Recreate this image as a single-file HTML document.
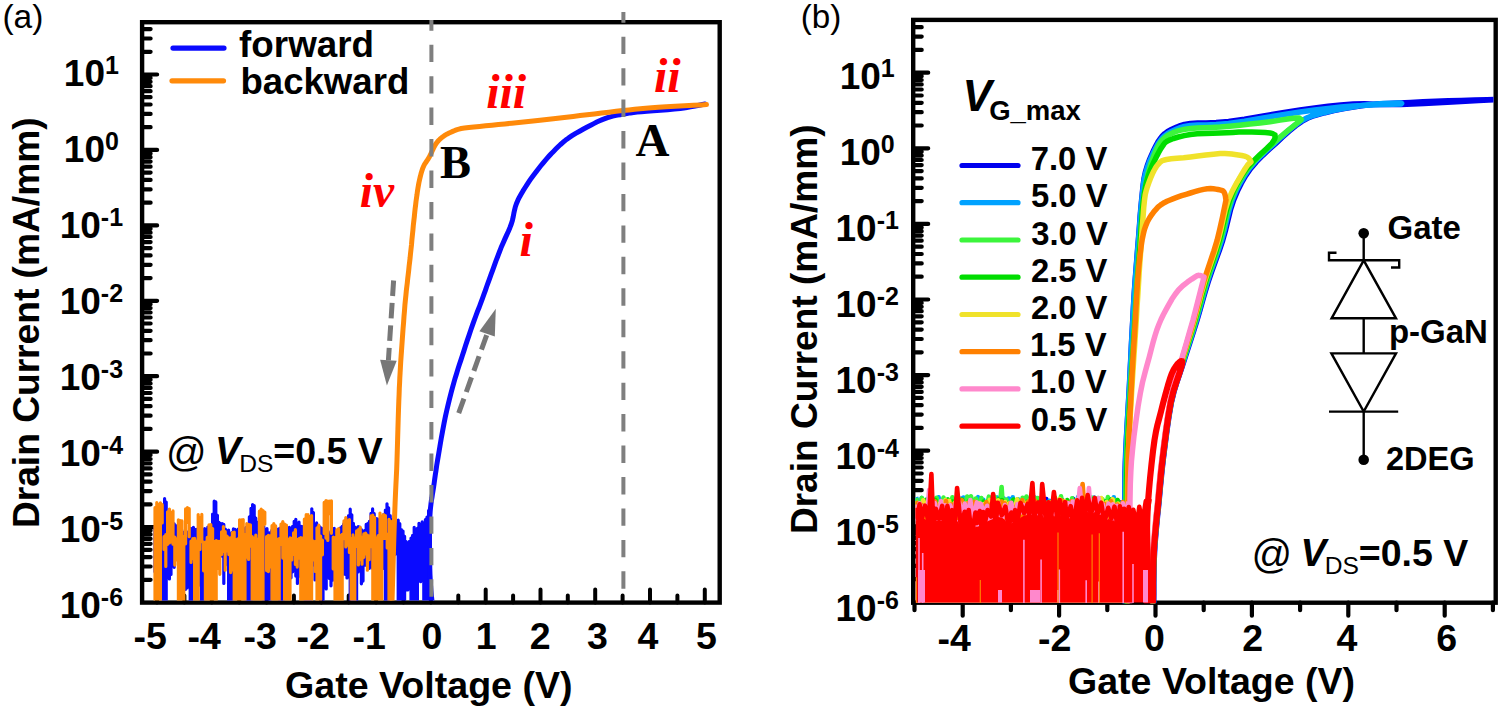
<!DOCTYPE html>
<html><head><meta charset="utf-8"><style>html,body{margin:0;padding:0;background:#fff;width:1500px;height:710px;overflow:hidden}svg{display:block}</style></head>
<body><svg width="1500" height="710" viewBox="0 0 1500 710">
<rect width="1500" height="710" fill="#fff"/>
<rect x="142.1" y="22.2" width="577.6" height="580.4" fill="none" stroke="#000" stroke-width="4.4"/>
<path d="M142.1,579.8h8.5 M142.1,566.5h8.5 M142.1,557.1h8.5 M142.1,549.8h8.5 M142.1,543.8h8.5 M142.1,538.8h8.5 M142.1,534.4h8.5 M142.1,530.5h8.5 M142.1,527.1h15 M142.1,504.4h8.5 M142.1,491.1h8.5 M142.1,481.7h8.5 M142.1,474.4h8.5 M142.1,468.4h8.5 M142.1,463.3h8.5 M142.1,459h8.5 M142.1,455.1h8.5 M142.1,451.7h15 M142.1,428.9h8.5 M142.1,415.7h8.5 M142.1,406.2h8.5 M142.1,398.9h8.5 M142.1,393h8.5 M142.1,387.9h8.5 M142.1,383.5h8.5 M142.1,379.7h8.5 M142.1,376.2h15 M142.1,353.5h8.5 M142.1,340.2h8.5 M142.1,330.8h8.5 M142.1,323.5h8.5 M142.1,317.5h8.5 M142.1,312.5h8.5 M142.1,308.1h8.5 M142.1,304.2h8.5 M142.1,300.8h15 M142.1,278.1h8.5 M142.1,264.8h8.5 M142.1,255.4h8.5 M142.1,248.1h8.5 M142.1,242.1h8.5 M142.1,237h8.5 M142.1,232.7h8.5 M142.1,228.8h8.5 M142.1,225.4h15 M142.1,202.7h8.5 M142.1,189.4h8.5 M142.1,179.9h8.5 M142.1,172.6h8.5 M142.1,166.7h8.5 M142.1,161.6h8.5 M142.1,157.2h8.5 M142.1,153.4h8.5 M142.1,149.9h15 M142.1,127.2h8.5 M142.1,113.9h8.5 M142.1,104.5h8.5 M142.1,97.2h8.5 M142.1,91.2h8.5 M142.1,86.2h8.5 M142.1,81.8h8.5 M142.1,78h8.5 M142.1,74.5h15 M142.1,51.8h8.5 M142.1,38.5h8.5 M142.1,29.1h8.5" stroke="#000" stroke-width="4.2" stroke-linecap="round"/>
<path d="M157,602.6v-13 M184.4,602.6v-7 M211.8,602.6v-13 M239.2,602.6v-7 M266.6,602.6v-13 M293.9,602.6v-7 M321.3,602.6v-13 M348.7,602.6v-7 M376.1,602.6v-13 M403.5,602.6v-7 M430.9,602.6v-13 M458.3,602.6v-7 M485.7,602.6v-13 M513.1,602.6v-7 M540.5,602.6v-13 M567.8,602.6v-7 M595.2,602.6v-13 M622.6,602.6v-7 M650,602.6v-13 M677.4,602.6v-7 M704.8,602.6v-13" stroke="#000" stroke-width="4" stroke-linecap="round"/>
<clipPath id="cl"><rect x="144.3" y="24.4" width="573.2" height="576"/></clipPath>
<g clip-path="url(#cl)" fill="none" stroke-width="5" stroke-linejoin="round">
<path d="M155,527.2V571.8 M156.6,529.6V570.9 M158.2,526.7V572.3 M159.8,524.4V567.3 M161.4,523.9V576.6 M163,509.1V603 M164.6,498.7V603 M166.2,502V603 M167.8,516.4V565.6 M169.4,519.6V579 M171,526.6V574.5 M172.6,526V556.5 M174.2,523.8V567.3 M175.8,525.5V557.2 M177.4,528.1V554.1 M179,530.9V571.3 M180.6,533.9V577.1 M182.2,532.4V574.9 M183.8,532.2V573.2 M185.4,529.6V589.5 M187,533.6V588 M188.6,531.5V567.6 M190.2,528.4V603 M191.8,528.7V603 M193.4,527.4V579.2 M195,529.4V584 M196.6,529.3V587.9 M198.2,532.1V557.1 M199.8,528.3V585.1 M201.4,529.5V603 M203,532.3V603 M204.6,528.5V556 M206.2,529.5V581.8 M207.8,527.1V555.1 M209.4,527.1V585.9 M211,525.5V554.7 M212.6,514.1V542.6 M214.2,501.2V554.1 M215.8,501.9V546.5 M217.4,515.3V547 M219,522.4V552 M220.6,523.5V552.5 M222.2,523.7V556.2 M223.8,524.4V583.4 M225.4,529.2V564.9 M227,531.3V563.7 M228.6,530V603 M230.2,534.1V603 M231.8,532.5V603 M233.4,528.9V588.5 M235,529.3V563.3 M236.6,532.3V568.8 M238.2,529.1V556.7 M239.8,527.6V573 M241.4,527.8V573.8 M243,527.7V568.6 M244.6,530.5V572.4 M246.2,527.3V603 M247.8,528.3V603 M249.4,516.8V603 M251,508.3V603 M252.6,504.5V558.2 M254.2,505.7V537.3 M255.8,518.2V576.2 M257.4,522.4V580.7 M259,527.5V573.6 M260.6,525.7V554.4 M262.2,524.4V583.1 M263.8,526.6V603 M265.4,530.4V603 M267,528.7V603 M268.6,533.1V603 M270.2,532.5V603 M271.8,530.4V561.5 M273.4,532.6V560 M275,529.4V573.9 M276.6,532.8V579.3 M278.2,529V586.1 M279.8,528.3V603 M281.4,526.8V603 M283,528V603 M284.6,528.8V555.9 M286.2,526.8V564.7 M287.8,528.9V558.5 M289.4,527.3V583.5 M291,529.8V577.8 M292.6,526.4V571.8 M294.2,521.3V547.6 M295.8,519.3V576.1 M297.4,524.7V583.4 M299,522V569.3 M300.6,526.1V576.7 M302.2,526.5V586.5 M303.8,526.4V570.5 M305.4,530.6V603 M307,528.4V603 M308.6,524.2V603 M310.2,516.8V603 M311.8,508.8V565.9 M313.4,512.6V561.6 M315,524.4V579.9 M316.6,522.9V575.5 M318.2,526.9V572 M319.8,526.9V565.2 M321.4,528V603 M323,529.2V603 M324.6,526.8V574.2 M326.2,533.1V588.9 M327.8,532.3V570.9 M329.4,533.1V578.4 M331,531.4V585.8 M332.6,529V580.2 M334.2,528.3V574.4 M335.8,530.7V563.8 M337.4,531.7V574.1 M339,530.9V588.1 M340.6,527.8V553.2 M342.2,526.3V575 M343.8,523.9V554.8 M345.4,526.3V574.4 M347,521.7V577.9 M348.6,515.5V563.8 M350.2,509.2V603 M351.8,514.8V603 M353.4,523.4V603 M355,527.2V603 M356.6,528.2V603 M358.2,526.5V571.9 M359.8,527.2V557 M361.4,529.5V583.8 M363,531.2V581.1 M364.6,530.5V565.2 M366.2,524.4V565.2 M367.8,523.7V556.2 M369.4,521.4V568.3 M371,513.4V549.4 M372.6,508.9V568.3 M374.2,513.7V541.3 M375.8,518.3V573.8 M377.4,518.8V568.7 M379,521.6V557.4 M380.6,522.4V548.1 M382.2,518V559 M383.8,514.3V568.4 M385.4,510V603 M387,503.8V603 M388.6,507.8V603 M390.2,515.7V556.4 M391.8,520.2V568.1 M393.4,522.5V581.1 M395,522.6V554.6 M396.6,522.2V553.4 M398.2,520.2V603 M399.8,523.7V603 M401.4,529.5V603 M403,531.1V603 M404.6,536.4V603 M406.2,541.7V590 M407.8,543.4V589.9 M409.4,541.4V580.2 M411,538.2V603 M412.6,535.4V603 M414.2,527.3V603 M415.8,531V603 M417.4,528.3V603 M419,523.3V564.2 M420.6,524.8V581.7 M422.2,521.9V566.8 M423.8,523.5V603 M425.4,519.7V603 M427,517.1V603 M428.6,510.7V603" stroke="#0a0aff" stroke-width="3.2" stroke-linecap="round"/>
<polyline points="432,602 431.8,599.3 431.4,595.7 431,591.3 430.6,586.3 430.3,580.9 430,575 429.8,568.3 429.7,560.5 429.6,552.2 429.5,544 429.5,536.4 429.5,530 429.6,525 429.6,520.9 429.8,517.5 430,514.4 430.2,511.3 430.5,508 430.9,504.5 431.3,501.1 431.9,497.8 432.4,494.4 433,490.8 433.6,487 434.2,483 434.7,479.1 435.3,474.9 436,470.4 436.7,465.5 437.6,460 438.7,453.6 439.9,446.4 441.2,438.7 442.6,431 444,423.5 445.4,416.6 446.8,410.3 448.2,404.4 449.6,398.7 451,393.2 452.4,387.9 453.8,382.8 455.2,377.9 456.6,373.4 457.9,369.1 459.3,364.8 460.8,360.4 462.3,355.8 463.9,350.9 465.5,345.8 467.2,340.6 469,335.4 470.7,330.3 472.4,325.4 474.1,320.7 475.8,316 477.5,311.4 479.3,307 480.9,302.6 482.5,298.3 484,294.2 485.4,290.3 486.7,286.5 488.1,282.7 489.5,278.8 491,274.7 492.6,270.3 494.2,265.8 495.9,261.1 497.7,256.5 499.4,252 501.1,247.6 502.9,243.4 504.7,239.4 506.5,235.4 508.3,231.5 509.9,227.7 511.3,224 512.4,220.4 513.2,216.9 513.8,213.6 514.5,210.3 515.3,207 516.4,203.7 517.8,200.4 519.4,197.2 521.2,194 523,190.9 525,187.7 527,184.6 529.1,181.4 531.3,178.2 533.7,175 536,171.9 538.3,168.9 540.6,166 542.8,163.3 544.9,160.8 547,158.4 549.1,156 551.2,153.7 553.5,151.4 555.8,149.1 558.1,146.8 560.5,144.5 563,142.3 565.7,140.1 568.7,137.9 572,135.7 575.7,133.4 579.6,131.2 583.5,129 587.2,127 590.7,125.2 593.8,123.6 596.8,122.1 599.6,120.8 602.3,119.6 604.9,118.6 607.6,117.6 610.2,116.8 612.7,116.1 615.1,115.6 617.5,115.1 620.1,114.7 622.8,114.2 625.5,113.7 628,113.3 630.6,112.9 633.6,112.6 637.1,112.1 641.4,111.7 646.9,111.2 653.4,110.7 660.5,110.2 667.6,109.7 674.4,109.1 680.3,108.5 685.5,107.8 690.5,106.9 695.1,106 699.1,105.2 702.5,104.5 705,104" stroke="#0a0aff" stroke-linecap="round"/>
<path d="M155,507.7V603 M156.8,502.5V603 M158.6,504.5V603 M160.4,502.8V603 M162.2,504.7V522.9 M164,536.7V549.4 M165.8,534.6V566.5 M167.6,511.8V544.3 M169.4,509V543 M171.2,512.6V542 M173,510.9V544.2 M174.8,537.1V565.1 M176.6,539V559.8 M178.4,519.8V603 M180.2,520.5V603 M182,520.9V603 M183.8,536.7V603 M185.6,508.9V543.8 M187.4,507.7V522.4 M189.2,508.7V536.7 M191,541.2V562.4 M192.8,538.6V558.7 M194.6,538.4V603 M196.4,541.4V603 M198.2,514.6V603 M200,517.7V549.5 M201.8,514.4V541.7 M203.6,542.2V570.8 M205.4,542.2V603 M207.2,537.4V603 M209,524.8V603 M210.8,524.6V603 M212.6,528.6V603 M214.4,541.7V603 M216.2,540.5V603 M218,541.3V568.3 M219.8,541.3V574.3 M221.6,531.8V554.4 M223.4,526.5V551.5 M225.2,531.6V570.2 M227,536.1V551 M228.8,537.9V554.6 M230.6,537.8V572.6 M232.4,532.5V569.8 M234.2,532.1V603 M236,539.5V603 M237.8,538.9V603 M239.6,519.8V603 M241.4,519.9V603 M243.2,519.5V603 M245,534.8V603 M246.8,523.5V557.1 M248.6,524.3V559.4 M250.4,524.8V546.1 M252.2,536.5V603 M254,538.3V603 M255.8,535V603 M257.6,539.3V603 M259.4,511.2V603 M261.2,509.2V603 M263,510.6V603 M264.8,512.1V524.2 M266.6,536.6V570.6 M268.4,535.3V571.6 M270.2,535.8V566.9 M272,525.7V603 M273.8,523.5V603 M275.6,525.9V603 M277.4,539.3V603 M279.2,538.6V603 M281,524.2V544.5 M282.8,521.5V558.1 M284.6,524V603 M286.4,525V603 M288.2,539.7V603 M290,537.9V603 M291.8,538.3V560 M293.6,532.8V554.3 M295.4,529.5V564.4 M297.2,539.6V567.1 M299,538.5V558.2 M300.8,537.5V603 M302.6,538.1V603 M304.4,519.1V603 M306.2,514.7V603 M308,514.7V603 M309.8,516.7V603 M311.6,515.6V603 M313.4,541V560 M315.2,541.7V571.4 M317,527.8V603 M318.8,525.2V603 M320.6,536.2V603 M322.4,540.2V554.8 M324.2,502.4V533.4 M326,500.5V538.1 M327.8,501V540.4 M329.6,501.1V513.6 M331.4,500.8V533.3 M333.2,537.2V569 M335,537.6V603 M336.8,529.9V603 M338.6,528.5V603 M340.4,535.7V603 M342.2,534.4V603 M344,520.8V538.6 M345.8,517.6V547 M347.6,520.9V545.1 M349.4,519.6V552.5 M351.2,538.5V603 M353,534.8V603 M354.8,538.2V603 M356.6,530.9V546.5 M358.4,529.6V564.9 M360.2,527.4V559.6 M362,537.3V564.2 M363.8,533.9V557.3 M365.6,533V553.8 M367.4,535.1V570.2 M369.2,536.1V559.7 M371,515.9V546.7 M372.8,515V603 M374.6,517.5V603 M376.4,538.2V603 M378.2,535.5V603 M380,513.1V603 M381.8,516V603 M383.6,514.5V538.5 M385.4,515.5V538.5 M387.2,534.4V548 M389,519.3V603 M390.8,521.4V603" stroke="#ff8a0a" stroke-width="3.2" stroke-linecap="round"/>
<polyline points="392,602 392.3,592 392.7,577.9 393.2,561.3 393.7,543.9 394.2,527.5 394.7,513.8 395.1,502.9 395.5,493.5 395.9,485 396.3,477 396.7,468.8 397,460 397.3,450.2 397.6,439.9 397.9,429.4 398.2,419.3 398.5,409.8 398.8,401.4 399.1,394.3 399.3,388.3 399.6,382.9 399.8,377.9 400.1,372.9 400.4,367.6 400.7,362 401.1,356.3 401.5,350.7 401.9,345.1 402.3,339.4 402.7,333.8 403.1,328.1 403.6,322.2 404,316.4 404.5,310.6 404.9,305.1 405.4,300 405.9,295.3 406.3,290.9 406.8,286.8 407.3,282.7 407.7,278.7 408.2,274.6 408.7,270.4 409.1,266.3 409.6,262.1 410.1,257.9 410.5,253.7 411,249.3 411.5,244.7 411.9,239.9 412.4,235.1 412.9,230.2 413.3,225.5 413.8,221.1 414.3,216.9 414.7,212.8 415.1,208.9 415.6,205.1 416,201.5 416.5,198 417,194.7 417.4,191.5 417.9,188.4 418.4,185.5 418.9,182.7 419.5,180 420.1,177.4 420.7,175 421.3,172.7 422,170.5 422.7,168.4 423.5,166.5 424.3,164.8 425.2,163.3 426.1,162 427,160.7 428,159.3 429,157.6 430,155.6 431.1,153.3 432.2,151 433.3,148.6 434.4,146.4 435.5,144.5 436.6,142.9 437.7,141.5 438.8,140.3 439.9,139.2 441.1,138.1 442.5,137 444,135.9 445.6,134.9 447.3,133.9 449.1,133 450.9,132.2 452.7,131.4 454.3,130.7 455.7,130.1 457.1,129.6 458.9,129.1 461.2,128.5 464.5,128 468.8,127.4 473.8,126.9 479.5,126.4 485.6,125.8 492,125.2 498.3,124.6 504.8,123.9 511.7,123.2 518.8,122.5 525.9,121.8 533.1,121.1 540,120.3 546.7,119.5 553.4,118.8 559.9,118 566.5,117.2 573.2,116.4 580,115.6 587.1,114.8 594.3,113.9 601.7,113 609,112.2 616.1,111.3 622.8,110.6 629,109.9 634.7,109.3 640.2,108.8 645.8,108.2 651.7,107.7 658.3,107.2 666.2,106.7 675.2,106.2 684.6,105.7 693.5,105.2 701.1,104.9 706.5,104.6" stroke="#ff8a0a" stroke-linecap="round"/>
</g>
<line x1="431.4" y1="20" x2="431.4" y2="602" stroke="#7f7f7f" stroke-width="4" stroke-dasharray="17.4 14.05" stroke-dashoffset="6.75"/>
<line x1="623.4" y1="12.1" x2="623.4" y2="602" stroke="#7f7f7f" stroke-width="4" stroke-dasharray="17.4 14.05" stroke-dashoffset="6.85"/>
<text x="91.4" y="86.1" font-family="Liberation Sans, sans-serif" font-weight="bold" text-anchor="middle"><tspan font-size="37">10</tspan><tspan font-size="25" dy="-11.8">1</tspan></text>
<text x="91.4" y="162.1" font-family="Liberation Sans, sans-serif" font-weight="bold" text-anchor="middle"><tspan font-size="37">10</tspan><tspan font-size="25" dy="-11.8">0</tspan></text>
<text x="91.4" y="238.1" font-family="Liberation Sans, sans-serif" font-weight="bold" text-anchor="middle"><tspan font-size="37">10</tspan><tspan font-size="25" dy="-11.8">-1</tspan></text>
<text x="91.4" y="314.1" font-family="Liberation Sans, sans-serif" font-weight="bold" text-anchor="middle"><tspan font-size="37">10</tspan><tspan font-size="25" dy="-11.8">-2</tspan></text>
<text x="91.4" y="390.1" font-family="Liberation Sans, sans-serif" font-weight="bold" text-anchor="middle"><tspan font-size="37">10</tspan><tspan font-size="25" dy="-11.8">-3</tspan></text>
<text x="91.4" y="466" font-family="Liberation Sans, sans-serif" font-weight="bold" text-anchor="middle"><tspan font-size="37">10</tspan><tspan font-size="25" dy="-11.8">-4</tspan></text>
<text x="91.4" y="542" font-family="Liberation Sans, sans-serif" font-weight="bold" text-anchor="middle"><tspan font-size="37">10</tspan><tspan font-size="25" dy="-11.8">-5</tspan></text>
<text x="91.4" y="618" font-family="Liberation Sans, sans-serif" font-weight="bold" text-anchor="middle"><tspan font-size="37">10</tspan><tspan font-size="25" dy="-11.8">-6</tspan></text>
<text x="133.5" y="648.6" font-family="Liberation Sans, sans-serif" font-weight="bold" font-style="normal" font-size="37.5" fill="#000" >-5</text>
<text x="187.5" y="648.6" font-family="Liberation Sans, sans-serif" font-weight="bold" font-style="normal" font-size="37.5" fill="#000" >-4</text>
<text x="243.5" y="648.6" font-family="Liberation Sans, sans-serif" font-weight="bold" font-style="normal" font-size="37.5" fill="#000" >-3</text>
<text x="296.5" y="648.6" font-family="Liberation Sans, sans-serif" font-weight="bold" font-style="normal" font-size="37.5" fill="#000" >-2</text>
<text x="352.5" y="648.6" font-family="Liberation Sans, sans-serif" font-weight="bold" font-style="normal" font-size="37.5" fill="#000" >-1</text>
<text x="421.5" y="648.6" font-family="Liberation Sans, sans-serif" font-weight="bold" font-style="normal" font-size="37.5" fill="#000" >0</text>
<text x="475.8" y="648.6" font-family="Liberation Sans, sans-serif" font-weight="bold" font-style="normal" font-size="37.5" fill="#000" >1</text>
<text x="529.7" y="648.6" font-family="Liberation Sans, sans-serif" font-weight="bold" font-style="normal" font-size="37.5" fill="#000" >2</text>
<text x="587.1" y="648.6" font-family="Liberation Sans, sans-serif" font-weight="bold" font-style="normal" font-size="37.5" fill="#000" >3</text>
<text x="637.4" y="648.6" font-family="Liberation Sans, sans-serif" font-weight="bold" font-style="normal" font-size="37.5" fill="#000" >4</text>
<text x="695.9" y="648.6" font-family="Liberation Sans, sans-serif" font-weight="bold" font-style="normal" font-size="37.5" fill="#000" >5</text>
<text x="285.1" y="697.5" font-family="Liberation Sans, sans-serif" font-weight="bold" font-style="normal" font-size="37.6" fill="#000" >Gate Voltage (V)</text>
<text transform="translate(38.6,528.1) rotate(-90)" font-family="Liberation Sans, sans-serif" font-weight="bold" font-size="37.15">Drain Current (mA/mm)</text>
<line x1="173" y1="48.1" x2="224" y2="48.1" stroke="#0a0aff" stroke-width="5.2" stroke-linecap="round"/>
<line x1="172" y1="80.8" x2="223.5" y2="80.8" stroke="#ff8a0a" stroke-width="5.2" stroke-linecap="round"/>
<text x="239.1" y="57.1" font-family="Liberation Sans, sans-serif" font-weight="bold" font-style="normal" font-size="36.8" fill="#000" >forward</text>
<text x="240.5" y="94.3" font-family="Liberation Sans, sans-serif" font-weight="bold" font-style="normal" font-size="36.6" fill="#000" >backward</text>
<text x="486.2" y="108.4" font-family="Liberation Serif, serif" font-weight="bold" font-style="italic" font-size="48" fill="#ff0000" >iii</text>
<text x="654" y="92.2" font-family="Liberation Serif, serif" font-weight="bold" font-style="italic" font-size="48" fill="#ff0000" >ii</text>
<text x="359.8" y="206.5" font-family="Liberation Serif, serif" font-weight="bold" font-style="italic" font-size="47.5" fill="#ff0000" >iv</text>
<text x="519.6" y="255.6" font-family="Liberation Serif, serif" font-weight="bold" font-style="italic" font-size="48" fill="#ff0000" >i</text>
<text x="635.4" y="156.3" font-family="Liberation Serif, serif" font-weight="bold" font-style="normal" font-size="47" fill="#000" >A</text>
<text x="439.9" y="178.4" font-family="Liberation Serif, serif" font-weight="bold" font-style="normal" font-size="46.5" fill="#000" >B</text>
<line x1="393.6" y1="280.5" x2="388.4" y2="360.3" stroke="#777" stroke-width="5" stroke-dasharray="15.5 7"/><polygon points="380.1,359.8 386.9,385.6 396.7,360.8" fill="#777"/>
<line x1="458.7" y1="413.2" x2="487.1" y2="333.9" stroke="#777" stroke-width="5" stroke-dasharray="15.5 7"/><polygon points="494.8,336.5 495.8,308.7 479.4,331.3" fill="#777"/>
<text x="166" y="466" font-family="Liberation Sans, sans-serif" font-weight="normal" font-style="normal" font-size="40" fill="#000" >@</text><text x="215.1" y="464.2" font-family="Liberation Sans, sans-serif" font-weight="bold" font-style="italic" font-size="38.5" fill="#000" >V</text><text x="239.2" y="472.3" font-family="Liberation Sans, sans-serif" font-weight="normal" font-style="normal" font-size="24.6" fill="#000" >DS</text><text x="273.3" y="464.2" font-family="Liberation Sans, sans-serif" font-weight="bold" font-style="normal" font-size="37.5" fill="#000" >=0.5 V</text>
<text x="2.4" y="28.4" font-family="Liberation Sans, sans-serif" font-weight="normal" font-style="normal" font-size="33.5" fill="#000" >(a)</text>
<rect x="913.2" y="19.9" width="582.5" height="582.8" fill="none" stroke="#000" stroke-width="4.4"/>
<path d="M913.2,579.1h8.5 M913.2,565.8h8.5 M913.2,556.4h8.5 M913.2,549.1h8.5 M913.2,543.1h8.5 M913.2,538h8.5 M913.2,533.6h8.5 M913.2,529.8h8.5 M913.2,526.3h15 M913.2,503.5h8.5 M913.2,490.2h8.5 M913.2,480.8h8.5 M913.2,473.5h8.5 M913.2,467.5h8.5 M913.2,462.4h8.5 M913.2,458h8.5 M913.2,454.2h8.5 M913.2,450.7h15 M913.2,427.9h8.5 M913.2,414.6h8.5 M913.2,405.2h8.5 M913.2,397.9h8.5 M913.2,391.9h8.5 M913.2,386.8h8.5 M913.2,382.4h8.5 M913.2,378.6h8.5 M913.2,375.1h15 M913.2,352.3h8.5 M913.2,339h8.5 M913.2,329.6h8.5 M913.2,322.3h8.5 M913.2,316.3h8.5 M913.2,311.2h8.5 M913.2,306.8h8.5 M913.2,303h8.5 M913.2,299.5h15 M913.2,276.7h8.5 M913.2,263.4h8.5 M913.2,254h8.5 M913.2,246.7h8.5 M913.2,240.7h8.5 M913.2,235.6h8.5 M913.2,231.2h8.5 M913.2,227.4h8.5 M913.2,223.9h15 M913.2,201.1h8.5 M913.2,187.8h8.5 M913.2,178.4h8.5 M913.2,171.1h8.5 M913.2,165.1h8.5 M913.2,160h8.5 M913.2,155.6h8.5 M913.2,151.8h8.5 M913.2,148.3h15 M913.2,125.5h8.5 M913.2,112.2h8.5 M913.2,102.8h8.5 M913.2,95.5h8.5 M913.2,89.5h8.5 M913.2,84.4h8.5 M913.2,80h8.5 M913.2,76.2h8.5 M913.2,72.7h15 M913.2,49.9h8.5 M913.2,36.6h8.5 M913.2,27.2h8.5" stroke="#000" stroke-width="4.2" stroke-linecap="round"/>
<path d="M914.5,602.7v7.5 M962.7,602.7v13 M1010.9,602.7v7.5 M1059.1,602.7v13 M1107.3,602.7v7.5 M1155.5,602.7v13 M1203.7,602.7v7.5 M1251.9,602.7v13 M1300.1,602.7v7.5 M1348.3,602.7v13 M1396.5,602.7v7.5 M1444.7,602.7v13 M1492.9,602.7v7.5" stroke="#000" stroke-width="4.2" stroke-linecap="round"/>
<clipPath id="cr"><rect x="915.4" y="22.1" width="578.1" height="581.2"/></clipPath>
<g clip-path="url(#cr)">
<polygon points="916,602.5 916,517 919.6,519.7 921.8,517 924.4,518.1 927.9,517 929.4,520.7 932,517 933.5,517 936.8,517 940.7,521.6 942.3,517 945.1,522.1 947.6,517 950.1,517 952.2,517 954.9,517 957,517 959.6,517 961.2,517 964.1,518 966,517 969.7,517 972,517 975.3,522.1 977.9,517 981,517 984,517 987.6,517 990.6,517 992.7,520.2 995.2,517 998.1,518.8 1001.3,517 1003.9,517 1007.3,517 1009.8,517 1011.4,517 1014.7,522.8 1017.6,517 1019.6,517 1023.5,517 1026.4,521 1028.4,517 1032.3,517.1 1035,517 1037.8,522.4 1039.4,517 1042.9,521.4 1046.3,517 1049.1,517 1051.6,517 1055.3,517 1057.3,517 1060,517 1062.4,517 1065.4,517.6 1068.1,517 1070.2,517 1073.1,517 1076.6,520.2 1080.2,517 1083.8,518.4 1085.5,517 1087,519.6 1089.1,517 1092.2,517 1093.9,517 1096.7,517 1098.9,517 1101.5,517 1104.2,517 1106.6,517 1108.6,517 1112.4,517 1114.4,517 1117.9,517 1119.5,517 1122.8,517 1123.5,602.5" fill="#0000ee"/><polyline points="916,502.3 919.6,519.7 921.8,500.5 924.4,518.1 927.9,502.5 929.4,520.7 932,499.2 933.5,515.2 936.8,508 940.7,521.6 942.3,502.9 945.1,522.1 947.6,505 950.1,509.4 952.2,500.8 954.9,512.3 957,501.9 959.6,513.1 961.2,498.8 964.1,518 966,498 969.7,510.7 972,499.4 975.3,522.1 977.9,498.8 981,513.2 984,505 987.6,516.1 990.6,502.8 992.7,520.2 995.2,502.1 998.1,518.8 1001.3,501.1 1003.9,516.1 1007.3,500.4 1009.8,515.9 1011.4,502.8 1014.7,522.8 1017.6,501 1019.6,516 1023.5,499.1 1026.4,521 1028.4,500.4 1032.3,517.1 1035,501.7 1037.8,522.4 1039.4,499.1 1042.9,521.4 1046.3,499 1049.1,516.9 1051.6,502.7 1055.3,517 1057.3,500.5 1060,514 1062.4,500.3 1065.4,517.6 1068.1,502.9 1070.2,511.5 1073.1,498.7 1076.6,520.2 1080.2,501.7 1083.8,518.4 1085.5,502.9 1087,519.6 1089.1,502.5 1092.2,513.8 1093.9,502.2 1096.7,511.4 1098.9,499.4 1101.5,513.5 1104.2,502.9 1106.6,514.9 1108.6,502.5 1112.4,516.1 1114.4,500 1117.9,509.3 1119.5,502.3 1122.8,511.2" fill="none" stroke="#0000ee" stroke-width="4.6" stroke-linejoin="round"/>
<polyline points="1153.7,602 1153.8,594.2 1153.8,582.9 1154,570.6 1154.2,560 1154.6,551.7 1155,544.2 1155.6,537.2 1156.2,530 1156.9,522.7 1157.6,515.6 1158.4,508.2 1159.2,500 1160,491.1 1160.9,481.7 1161.9,471.5 1163.2,460 1164.9,446.3 1166.9,431 1169.1,415.7 1171.4,402.4 1173.9,392 1176.5,383.4 1179.3,375.1 1182.4,365.8 1185.9,354.8 1189.8,343 1193.6,331.1 1197.1,320 1200,310.1 1202.5,301 1205.1,291.9 1208,282.4 1211.5,272.1 1215.3,261.5 1219.2,250.8 1222.7,240.3 1225.6,229.9 1228.1,219.5 1230.6,209.4 1233.7,200 1237.3,191.4 1241.2,183.5 1245.5,176 1250.5,168.8 1256.3,161.9 1262.7,155.4 1269.5,149.1 1276.1,143.1 1282.6,137.1 1289.1,131.2 1295.6,125.8 1301.8,121.4 1307.4,118.3 1312.5,116.2 1318,114.5 1324.9,112.7 1333.8,110.6 1344.2,108.6 1354.9,106.8 1364.9,105.3 1373.5,104.4 1381.5,103.8 1389.7,103.4 1399.2,103 1410.5,102.4 1422.9,101.8 1435.7,101.3 1448.2,100.8 1461.2,100.4 1474.8,100 1486.8,99.7 1495.2,99.5 1497,99.5 1478.6,100.5 1452,102 1423.9,103.5 1401,104.5 1385.8,104.6 1374.5,104.2 1364.5,103.8 1353.3,104 1340.8,104.9 1328.1,106.3 1314.7,108 1300,110 1282.6,112.7 1263.4,115.9 1244.5,119.1 1228.6,121.4 1216.2,122.5 1206.1,122.9 1197.7,123 1190.4,123.5 1184.5,124.5 1180.3,125.7 1176.8,127 1173.5,128.5 1170.2,130 1167.4,131.7 1164.8,133.6 1162.3,136 1160,138.9 1157.9,142.1 1155.9,145.8 1153.8,150 1151.6,154.8 1149.3,160.2 1147.2,166 1145.4,172 1144.1,178.1 1143.2,184.5 1142.5,191.4 1141.7,199 1140.9,207.6 1140.1,216.8 1139.4,226.7 1138.6,237 1137.7,247.8 1136.8,259.1 1135.9,270.7 1135,282.4 1134.2,294 1133.5,305.7 1132.9,317.6 1132.2,330 1131.5,342.8 1130.9,355.9 1130.2,369.5 1129.5,384 1128.6,400 1127.6,417.2 1126.6,434.3 1125.8,450 1125.3,462.4 1125,472.8 1124.9,484.2 1124.7,500 1124.6,524.2 1124.5,554.1 1124.5,582.5 1124.5,602" fill="none" stroke="#0000ee" stroke-width="5.5" stroke-linejoin="round" stroke-linecap="round"/>
<polygon points="916,602.5 916,516 919.9,516 921.6,516 924.9,517.4 927.2,516 930.2,516.1 932.1,516 934.6,518.1 938.6,516 941.4,516 943.6,516 945.2,516 947.5,516 951.2,516 954.1,516 955.7,516 957.5,516 961.5,517.4 963.5,516 966.9,518.3 970.7,516 974.2,516 978.1,516 980,518.6 983.3,516 986.2,516 990,516 993.5,516 997.3,516 999.9,516 1003.7,516 1006.4,516 1008.7,516 1010.7,520.7 1012.8,516 1015.1,521.4 1018.4,516 1021.2,517.1 1024.1,516 1026.1,516 1030,516 1031.7,519.5 1035,516 1037,518.4 1038.6,516 1040.8,516 1044.5,516 1047.3,520 1049.4,516 1053.1,516 1056.4,516 1058.8,516 1062,516 1065.9,516 1069.2,516 1071.3,519.4 1073.2,516 1076.5,516 1078.1,516 1079.9,516 1082.3,516 1085.7,516 1088,516 1090.6,518.7 1094,516 1097.4,520.1 1100.6,516 1102.7,517.3 1105,516 1107.6,520.2 1109.4,516 1111.9,516 1113.8,516 1115.9,516.5 1118.5,516 1121.3,516 1123,516 1124,602.5" fill="#00a2ff"/><polyline points="916,497.2 919.9,508.8 921.6,498 924.9,517.4 927.2,499 930.2,516.1 932.1,499.8 934.6,518.1 938.6,497.3 941.4,514.2 943.6,501.8 945.2,514.5 947.5,500.1 951.2,515.4 954.1,500.8 955.7,512.6 957.5,499.4 961.5,517.4 963.5,497.5 966.9,518.3 970.7,498.2 974.2,513 978.1,497.2 980,518.6 983.3,499.7 986.2,514.9 990,499.5 993.5,513 997.3,497.5 999.9,515.9 1003.7,498.4 1006.4,511.1 1008.7,498.5 1010.7,520.7 1012.8,497.4 1015.1,521.4 1018.4,499.5 1021.2,517.1 1024.1,500.4 1026.1,515.2 1030,498.9 1031.7,519.5 1035,497.5 1037,518.4 1038.6,498.7 1040.8,511.2 1044.5,501.5 1047.3,520 1049.4,500.9 1053.1,513.9 1056.4,501.8 1058.8,510.4 1062,501.6 1065.9,508.4 1069.2,501.9 1071.3,519.4 1073.2,501.1 1076.5,513.4 1078.1,497 1079.9,508.5 1082.3,498.9 1085.7,509.6 1088,501.8 1090.6,518.7 1094,497.5 1097.4,520.1 1100.6,499.6 1102.7,517.3 1105,501.5 1107.6,520.2 1109.4,499.1 1111.9,515.2 1113.8,497.2 1115.9,516.5 1118.5,501.9 1121.3,510 1123,501.8" fill="none" stroke="#00a2ff" stroke-width="4.6" stroke-linejoin="round"/>
<polyline points="1153.5,602 1153.5,594.2 1153.6,582.9 1153.7,570.6 1154,560 1154.3,551.7 1154.8,544.2 1155.3,537.2 1156,530 1156.6,522.7 1157.3,515.6 1158.1,508.2 1159,500 1159.8,491.1 1160.6,481.7 1161.6,471.5 1163,460 1164.6,446.3 1166.6,431 1168.8,415.7 1171.2,402.4 1173.6,392 1176.2,383.4 1178.9,375.1 1182,365.8 1185.4,354.8 1189.2,343 1193,331.1 1196.4,320 1199.3,310.1 1201.8,301 1204.3,291.9 1207.1,282.4 1210.5,272.1 1214.3,261.5 1218.1,250.8 1221.6,240.3 1224.4,229.9 1226.8,219.5 1229.3,209.4 1232.3,200 1235.9,191.4 1239.8,183.5 1244.2,176 1249.1,168.8 1254.9,161.9 1261.4,155.4 1268.1,149.1 1274.8,143.1 1281.2,137.1 1287.8,131.2 1294.2,125.8 1300.4,121.4 1306,118.3 1311.1,116.2 1316.6,114.5 1323.5,112.7 1332.5,110.6 1342.9,108.6 1353.6,106.8 1363.5,105.3 1373.3,104.3 1383,103.6 1391.6,103.2 1397.8,103 1400.9,103 1401.6,103.4 1401.2,103.7 1401,104 1401,104 1392.6,104.3 1380.5,104.6 1366.7,105.2 1353.3,106 1340.8,107.1 1328.1,108.4 1314.7,110 1300,112 1282.6,114.7 1263.4,117.9 1244.5,121.1 1228.6,123.4 1216.2,124.5 1206.1,124.9 1197.7,125 1190.4,125.5 1184.5,126.5 1180.3,127.7 1176.8,129 1173.5,130.5 1170.2,132 1167.4,133.7 1164.8,135.6 1162.3,138 1160,140.9 1157.9,144.1 1155.9,147.8 1153.8,152 1151.6,156.8 1149.3,162.2 1147.2,168 1145.4,174 1144.1,180.1 1143.2,186.5 1142.5,193.4 1141.7,201 1140.9,209.6 1140.1,218.9 1139.4,228.8 1138.6,239 1137.7,249.7 1136.8,260.9 1135.9,272.4 1135,284 1134.2,295.6 1133.5,307.4 1132.9,319.5 1132.2,332 1131.5,344.8 1130.9,358 1130.2,371.7 1129.5,386 1128.6,401.6 1127.6,418.2 1126.7,434.8 1126,450 1125.6,462.3 1125.3,472.6 1125.1,484.2 1125,500 1124.9,524.2 1124.9,554.1 1125,582.5 1125,602" fill="none" stroke="#00a2ff" stroke-width="5.5" stroke-linejoin="round" stroke-linecap="round"/>
<polygon points="916,602.5 916,515 918.9,515 921.9,515 923.5,515 927.1,515 929.2,520.9 931.9,515 934.6,515.9 936.5,515 940.1,515 943.5,515 945.1,517.6 948.1,515 949.7,519.1 952.4,515 956.1,517 959.9,515 963.4,515 967.2,515 969,515 971,515 973.6,515.8 975.8,515 978.3,515 981.3,515 985,516.5 988.9,515 992.8,516.4 994.7,515 998.7,519.7 1001.6,515 1003.6,518.6 1006.5,515 1008.2,519 1012.2,515 1015.7,515 1017.6,515 1021,519.2 1022.6,515 1024.2,517.1 1026.5,515 1030.5,515 1034.5,515 1036.2,515.4 1037.7,515 1040.3,515.5 1042.2,515 1045.8,515 1049.7,515 1052.2,515 1055,515 1058,515 1061,515 1063.8,515 1067.1,515 1069.3,520.7 1072.1,515 1073.7,515 1076.6,515 1079.6,515.9 1081.3,515 1084,516.5 1086.3,515 1089.7,515 1091.3,515 1095.2,515 1097.9,515 1100.2,515 1102.5,515 1105.5,515 1107.9,515 1109.5,515 1112.8,515 1114.9,518.3 1117,515 1119.5,516.8 1121.3,515 1123.6,518.7 1125,602.5" fill="#3cf53c"/><polyline points="916,498 918.9,512.2 921.9,497.9 923.5,507.2 927.1,499.7 929.2,520.9 931.9,496.8 934.6,515.9 936.5,497.8 940.1,514.3 943.5,497.6 945.1,517.6 948.1,499.5 949.7,519.1 952.4,497.4 956.1,517 959.9,499 963.4,513.2 967.2,496.6 969,508.9 971,496.2 973.6,515.8 975.8,498.5 978.3,511.9 981.3,498.1 985,516.5 988.9,496.7 992.8,516.4 994.7,496.7 998.7,519.7 1001.6,487 1003.6,518.6 1006.5,499.6 1008.2,519 1012.2,500.6 1015.7,512.7 1017.6,499.5 1021,519.2 1022.6,497.9 1024.2,517.1 1026.5,496.6 1030.5,514.1 1034.5,498 1036.2,515.4 1037.7,498 1040.3,515.5 1042.2,500.8 1045.8,511.4 1049.7,502 1052.2,513.4 1055,497.8 1058,514.8 1061,496.3 1063.8,513 1067.1,502 1069.3,520.7 1072.1,498.3 1073.7,512.8 1076.6,500.9 1079.6,515.9 1081.3,497.9 1084,516.5 1086.3,497.5 1089.7,507.3 1091.3,497.6 1095.2,510.5 1097.9,498 1100.2,512.1 1102.5,499.2 1105.5,511.2 1107.9,497.1 1109.5,515 1112.8,499.4 1114.9,518.3 1117,500.1 1119.5,516.8 1121.3,505 1123.6,518.7" fill="none" stroke="#3cf53c" stroke-width="4.6" stroke-linejoin="round"/>
<polyline points="1153.2,602 1153.3,594.2 1153.3,582.9 1153.5,570.6 1153.7,560 1154.1,551.7 1154.5,544.2 1155.1,537.2 1155.7,530 1156.4,522.7 1157.1,515.6 1157.9,508.2 1158.7,500 1159.5,491.1 1160.4,481.7 1161.4,471.5 1162.7,460 1164.4,446.3 1166.4,431 1168.6,415.7 1170.9,402.4 1173.3,392 1175.8,383.4 1178.6,375.1 1181.5,365.8 1184.9,354.8 1188.6,343 1192.3,331.1 1195.7,320 1198.5,310.1 1201,301 1203.4,291.9 1206.2,282.4 1209.6,272.1 1213.3,261.5 1217.1,250.8 1220.4,240.3 1223.2,229.9 1225.6,219.5 1228,209.4 1231,200 1234.6,191.4 1238.5,183.5 1242.8,176 1247.8,168.8 1253.6,161.9 1260,155.4 1266.8,149.1 1273.4,143.1 1280.4,136.9 1287.8,130.7 1294.4,125.3 1299.1,121.4 1301.1,119.6 1301.2,119.3 1300.4,119.8 1300,120 1300,120 1300,119.5 1300.2,118.7 1299.3,118.1 1296,118 1289.3,118.8 1280.2,120.1 1270,121.7 1260,123 1250,124.1 1239.6,125.2 1229.4,126.2 1220,127 1211.6,127.5 1203.8,127.8 1196.7,128 1190.4,128.5 1185.1,129.2 1180.8,130.1 1177,131.2 1173.5,132.5 1170.2,134 1167.3,135.7 1164.7,137.7 1162.3,140 1160.2,142.7 1158.4,145.7 1156.7,149.1 1155,153 1153.2,157.5 1151.3,162.6 1149.6,168.1 1148,174 1146.7,180.1 1145.5,186.4 1144.5,193.3 1143.5,201 1142.6,209.6 1141.8,218.9 1141,228.8 1140.2,239 1139.3,249.7 1138.5,260.9 1137.6,272.4 1136.8,284 1136.1,295.6 1135.4,307.4 1134.7,319.5 1134,332 1133.2,344.8 1132.3,358 1131.4,371.7 1130.5,386 1129.6,401.6 1128.6,418.2 1127.7,434.8 1127,450 1126.6,462.3 1126.3,472.6 1126.1,484.2 1126,500 1125.9,524.2 1125.9,554.1 1126,582.5 1126,602" fill="none" stroke="#3cf53c" stroke-width="5.5" stroke-linejoin="round" stroke-linecap="round"/>
<polygon points="916,602.5 916,518 917.8,518 919.6,518 922.1,522.9 925.7,518 927.7,518 929.9,518 931.7,518 935.5,518 939,521.2 941,518 944,520.2 947.7,518 949.4,518.5 952.6,518 954.5,518 956.2,518 959.9,518 962.2,518 965.1,522.4 968.7,518 971.2,518.4 973.8,518 976.1,521.4 977.7,518 980.8,518 983.6,518 986,524 987.9,518 990,518.9 992.1,518 995.5,518 998.4,518 1000.2,518 1002.2,518 1005.3,518 1007.6,518 1010.2,518 1013.5,518 1017.4,520.3 1021.3,518 1023.5,523.5 1026.9,518 1030.8,518.7 1034.3,518 1036.3,518 1038.2,518 1042.1,518 1043.6,518 1045.5,521 1047.9,518 1049.7,523.7 1052.2,518 1053.9,518 1055.8,518 1057.7,518 1060.4,518 1064.4,518 1067.2,518 1069.7,523.8 1072.4,518 1075,518 1077.5,518 1081.2,521.6 1084,518 1086.1,518 1088.1,518 1091.8,518 1093.4,518 1096.3,523.9 1098.9,518 1102,521.1 1105.4,518 1107.1,518 1110.8,518 1114.6,518 1117.7,518 1120.8,521.4 1123.6,518 1125.5,602.5" fill="#00dd00"/><polyline points="916,502.8 917.8,515.5 919.6,503.7 922.1,522.9 925.7,500.2 927.7,517.5 929.9,503.1 931.7,513 935.5,499.9 939,521.2 941,502.5 944,520.2 947.7,499.6 949.4,518.5 952.6,501.5 954.5,516.6 956.2,499.3 959.9,517.7 962.2,499.5 965.1,522.4 968.7,501.5 971.2,518.4 973.8,503.2 976.1,521.4 977.7,503.8 980.8,513.9 983.6,501.6 986,524 987.9,501.9 990,518.9 992.1,502.2 995.5,514.5 998.4,499.5 1000.2,510.9 1002.2,500.2 1005.3,513.3 1007.6,503.1 1010.2,510.6 1013.5,499.5 1017.4,520.3 1021.3,503.9 1023.5,523.5 1026.9,501.9 1030.8,518.7 1034.3,502.5 1036.3,516.2 1038.2,502.1 1042.1,514.6 1043.6,503.8 1045.5,521 1047.9,502.5 1049.7,523.7 1052.2,503 1053.9,510.8 1055.8,500.6 1057.7,510.6 1060.4,502.8 1064.4,511.7 1067.2,500.1 1069.7,523.8 1072.4,502.8 1075,510.5 1077.5,502.8 1081.2,521.6 1084,503.8 1086.1,513.4 1088.1,502.8 1091.8,512 1093.4,499.4 1096.3,523.9 1098.9,499.5 1102,521.1 1105.4,501.5 1107.1,513 1110.8,499.5 1114.6,514.7 1117.7,500 1120.8,521.4 1123.6,500.7" fill="none" stroke="#00dd00" stroke-width="4.6" stroke-linejoin="round"/>
<polyline points="1153,602 1153,594.2 1153.1,582.9 1153.2,570.6 1153.5,560 1153.8,551.7 1154.3,544.2 1154.8,537.2 1155.5,530 1156.1,522.7 1156.8,515.6 1157.6,508.2 1158.5,500 1159.3,491.1 1160.1,481.7 1161.1,471.5 1162.5,460 1164.2,446.3 1166.1,431 1168.3,415.7 1170.7,402.4 1173,392 1175.5,383.4 1178.2,375.1 1181.1,365.8 1184.4,354.8 1188.1,343 1191.7,331.1 1195,320 1197.8,310.1 1200.2,301 1202.6,291.9 1205.3,282.4 1208.6,272.1 1212.3,261.5 1216,250.8 1219.3,240.3 1222,229.9 1224.3,219.5 1226.7,209.4 1229.7,200 1233.2,191.4 1237.1,183.5 1241.5,176 1246.5,168.8 1252.8,161.6 1260.1,154.5 1267,148.2 1272.1,143.1 1274.4,139.6 1275.1,137.4 1275,136 1275,135 1275,136 1274.6,135.4 1274.1,134.6 1272.8,133.7 1270,133 1265.2,132.6 1258.8,132.2 1251.7,132.1 1245,132 1238.9,132.1 1232.8,132.4 1226.6,132.8 1220,133.1 1212.7,133.3 1205,133.5 1197.3,133.8 1190.4,134.5 1184.2,135.6 1178.4,137 1173.4,138.5 1169.3,140.1 1166.6,141.5 1164.9,142.9 1163.7,144.4 1162.3,146.5 1160.5,149.1 1158.8,152.2 1157,155.6 1155.2,159.2 1153.4,163 1151.6,167 1149.8,171.3 1148.2,176.1 1146.8,181.1 1145.6,186.4 1144.5,192.5 1143.5,199.6 1142.6,208.2 1141.9,218 1141.2,228.4 1140.5,239 1139.8,249.8 1139,261 1138.2,272.4 1137.5,284 1136.8,295.6 1136,307.4 1135.3,319.5 1134.5,332 1133.7,344.8 1132.8,358 1131.9,371.7 1131,386 1130.1,401.6 1129.1,418.2 1128.2,434.8 1127.5,450 1127.1,462.3 1126.8,472.6 1126.6,484.2 1126.5,500 1126.4,524.2 1126.4,554.1 1126.5,582.5 1126.5,602" fill="none" stroke="#00dd00" stroke-width="5.5" stroke-linejoin="round" stroke-linecap="round"/>
<polygon points="916,602.5 916,518 919.4,521.1 923.2,518 927,518 929.7,518 932.8,522.6 934.6,518 936.7,518 939.6,518 941.7,518 945.5,518 947.4,521.2 949.2,518 951,518 954.7,518 956.7,523.8 960.4,518 964.3,518 967.5,518 971.4,519.7 975.3,518 977.5,518 979.5,518 981.1,518 984.1,518 987.3,518 989.6,518 992.3,518 995,518 996.6,523.7 998.2,518 1001.8,518 1005.3,518 1008.2,518 1009.8,518 1013.7,518 1017.1,518 1021,518 1023.4,518 1026.8,518 1030.2,518 1033.8,518 1037.7,518 1040,518.6 1043.8,518 1047.7,518 1049.9,518 1051.9,518 1053.7,518 1057.7,518 1059.4,518 1062.2,518 1064.3,518 1067.9,518 1070.4,518 1074.2,518 1076.9,518 1078.8,520.2 1082.6,518 1086.1,518 1088.7,518 1092.3,518 1094.9,518 1098.6,523.7 1101.2,518 1104.5,518 1106.7,518 1108.6,518 1112.6,518 1115.7,518 1118,518 1120.2,520.9 1123.8,518 1126.5,602.5" fill="#f0e22a"/><polyline points="916,500.9 919.4,521.1 923.2,500.3 927,510.4 929.7,499.3 932.8,522.6 934.6,501.7 936.7,517.6 939.6,503.9 941.7,513.9 945.5,500.2 947.4,521.2 949.2,500.9 951,510 954.7,503 956.7,523.8 960.4,502.6 964.3,517.5 967.5,503 971.4,519.7 975.3,502 977.5,515.1 979.5,503.3 981.1,514.2 984.1,504 987.3,514.7 989.6,499.9 992.3,514.4 995,500.5 996.6,523.7 998.2,500.3 1001.8,510.3 1005.3,502.2 1008.2,510.1 1009.8,503.1 1013.7,512.8 1017.1,499.4 1021,514.8 1023.4,501.4 1026.8,511.5 1030.2,500 1033.8,510.5 1037.7,503.5 1040,518.6 1043.8,502.3 1047.7,517.6 1049.9,502.4 1051.9,511.1 1053.7,500.6 1057.7,512.3 1059.4,499.1 1062.2,515.7 1064.3,501 1067.9,516.4 1070.4,503.7 1074.2,510.5 1076.9,499.8 1078.8,520.2 1082.6,500.8 1086.1,511.5 1088.7,503.3 1092.3,514.1 1094.9,499 1098.6,523.7 1101.2,498 1104.5,516.7 1106.7,502 1108.6,515.3 1112.6,499.2 1115.7,517 1118,503.6 1120.2,520.9 1123.8,502.2" fill="none" stroke="#f0e22a" stroke-width="4.6" stroke-linejoin="round"/>
<polyline points="1152.7,602 1152.8,594.2 1152.8,582.9 1153,570.6 1153.2,560 1153.6,551.7 1154,544.2 1154.6,537.2 1155.2,530 1155.9,522.7 1156.6,515.6 1157.4,508.2 1158.2,500 1159,491.1 1159.9,481.7 1160.9,471.5 1162.2,460 1163.9,446.3 1165.9,431 1168.1,415.7 1170.4,402.4 1172.7,392 1175.2,383.4 1177.8,375.1 1180.6,365.8 1183.9,354.8 1187.5,343 1191.1,331.1 1194.3,320 1197,310.1 1199.4,301 1201.7,291.9 1204.4,282.4 1207.7,272.1 1211.3,261.5 1214.9,250.8 1218.2,240.3 1220.8,229.9 1223.1,219.5 1225.4,209.4 1228.3,200 1232.3,191 1237,182.3 1241.5,174.7 1245.1,168.8 1247.5,165.2 1249.1,163.5 1250.2,162.7 1251,162 1251,162 1250.5,161 1249.8,159.7 1248.7,158.2 1247,157 1244.6,156.2 1241.7,155.5 1238.4,155 1235,154.5 1231.8,154.1 1228.6,153.7 1224.8,153.5 1220,153.6 1213.5,154.2 1205.8,155.1 1197.7,156.1 1190.4,157 1183.6,157.7 1177,158.2 1171.2,158.8 1166.5,159.5 1163.5,160.2 1161.8,160.9 1160.7,161.8 1159.4,163 1157.9,164.6 1156.5,166.4 1155.2,168.5 1153.8,171 1152.4,173.9 1150.9,177.3 1149.5,180.9 1148.2,184.5 1147.1,187.7 1146.2,190.7 1145.3,194.4 1144.5,200 1143.7,208 1143,217.7 1142.2,228.3 1141.5,239 1140.8,249.8 1140,260.9 1139.2,272.4 1138.5,284 1137.8,295.6 1137,307.4 1136.3,319.5 1135.5,332 1134.7,344.8 1133.8,358 1132.9,371.7 1132,386 1131.1,401.6 1130.1,418.2 1129.2,434.8 1128.5,450 1128.1,462.3 1127.8,472.6 1127.6,484.2 1127.5,500 1127.4,524.2 1127.4,554.1 1127.5,582.5 1127.5,602" fill="none" stroke="#f0e22a" stroke-width="5.5" stroke-linejoin="round" stroke-linecap="round"/>
<polygon points="916,602.5 916,519 919.6,519 921.7,519 924.9,519 928.3,519 931.7,519 935.2,519 937.7,519 940.9,519 943.8,522.3 946,519 949.2,522.8 951.5,519 955,522.3 957.7,519 959.6,519.9 961.9,519 964.8,519 968,519 971.8,523.7 974.6,519 977.8,522.3 981.8,519 984.2,519.4 986.4,519 988.2,523.3 991,519 994.1,519 996.1,519 998,519 1001.6,519 1003.2,521.9 1004.7,519 1008.5,519.7 1010.7,519 1013.2,519 1017.2,519 1019.8,521.4 1022.3,519 1024.4,524.7 1028.1,519 1031.8,519 1035.4,519 1038.2,519 1041.5,519 1043.2,521.5 1045.3,519 1048.8,519 1050.4,519 1053.3,519 1055.5,519 1059.3,519 1061.8,519 1064.9,519 1067.5,519 1069.4,519 1071.7,519 1074,520.2 1077.9,519 1080.3,519.4 1082.6,519 1085.4,522.1 1089.2,519 1090.7,519 1092.4,519 1095.8,519 1099.1,519 1102.9,522.9 1104.6,519 1108.5,519.6 1111,519 1114.5,519 1117.2,519 1119.6,519 1122.7,519 1124.5,519.8 1126.3,519 1127,602.5" fill="#ff8000"/><polyline points="916,501 919.6,517.8 921.7,505 924.9,517.6 928.3,503.1 931.7,514.8 935.2,501.4 937.7,518.5 940.9,504 943.8,522.3 946,501 949.2,522.8 951.5,504.5 955,522.3 957.7,504.5 959.6,519.9 961.9,500.2 964.8,513.8 968,503.2 971.8,523.7 974.6,501.8 977.8,522.3 981.8,504.9 984.2,519.4 986.4,502.1 988.2,523.3 991,504.4 994.1,515.4 996.1,502.6 998,513.9 1001.6,501.5 1003.2,521.9 1004.7,503.3 1008.5,519.7 1010.7,503.1 1013.2,512.8 1017.2,504.7 1019.8,521.4 1022.3,500.1 1024.4,524.7 1028.1,501.6 1031.8,517.3 1035.4,501 1038.2,517.6 1041.5,503 1043.2,521.5 1045.3,502.6 1048.8,513.4 1050.4,504.4 1053.3,516.1 1055.5,502.7 1059.3,514.6 1061.8,500.6 1064.9,514.8 1067.5,502.6 1069.4,516.3 1071.7,501 1074,520.2 1077.9,500.4 1080.3,519.4 1082.6,484 1085.4,522.1 1089.2,503.5 1090.7,517.3 1092.4,504.8 1095.8,512.6 1099.1,503.2 1102.9,522.9 1104.6,504 1108.5,519.6 1111,501.1 1114.5,517.9 1117.2,504.5 1119.6,513 1122.7,502 1124.5,519.8 1126.3,504.5" fill="none" stroke="#ff8000" stroke-width="4.6" stroke-linejoin="round"/>
<polyline points="1152.5,602 1152.5,594.2 1152.6,582.9 1152.7,570.6 1153,560 1153.3,551.7 1153.8,544.2 1154.3,537.2 1155,530 1155.6,522.7 1156.3,515.6 1157.1,508.2 1158,500 1158.8,491.1 1159.6,481.7 1160.6,471.5 1162,460 1163.7,446.3 1165.7,431 1167.9,415.7 1170.2,402.4 1172.5,392 1174.9,383.4 1177.4,375.1 1180.2,365.8 1183.4,354.8 1186.9,343 1190.5,331.1 1193.7,320 1196.3,310.1 1198.6,301 1200.9,291.9 1203.5,282.4 1206.8,272.1 1210.3,261.5 1213.9,250.8 1217.1,240.3 1219.8,229.2 1222.4,217.5 1224.5,207.2 1226,200 1226,200 1225.7,198.4 1225.4,196.2 1224.8,193.8 1224,192 1222.9,190.9 1221.5,190.3 1219.9,189.9 1218,189.5 1215.8,189.1 1213.3,188.7 1210.5,188.5 1207.3,188.7 1203.5,189.4 1199.2,190.4 1194.8,191.7 1190.4,193 1186.1,194.3 1181.6,195.7 1177.4,197.2 1173.5,198.6 1170.1,200 1167,201.3 1164.2,202.7 1161.6,204.3 1159.2,206.1 1157.1,208.1 1155.1,210.3 1153.1,212.8 1151.1,215.5 1149.2,218.5 1147.4,221.8 1145.8,225.6 1144.4,229.7 1143.3,234.2 1142.2,239.4 1141.2,245.8 1140.2,253.5 1139.2,262.4 1138.3,272.1 1137.5,282.4 1136.8,293.6 1136.1,305.7 1135.5,318 1134.8,330 1134.1,340.7 1133.4,350.8 1132.8,361.7 1132,375 1131.1,392.2 1130.1,412.2 1129.2,432.3 1128.5,450 1128.2,463 1128,473.3 1128,484.4 1128,500 1128,524.2 1128,554.1 1128,582.5 1128,602" fill="none" stroke="#ff8000" stroke-width="5.5" stroke-linejoin="round" stroke-linecap="round"/>
<polygon points="916,602.5 916,520 917.9,521.1 919.6,520 922,520 924.7,520 927.3,520 929.1,520 932.6,520 934.7,520 938.5,520.1 941,520 942.7,524 944.9,520 946.7,520 950.2,520 953.2,520.9 955.6,520 957.3,520 959.3,520 961.8,520 964.8,520 967.1,523.1 970.3,520 973.2,520 976.9,520 979.1,525.7 980.9,520 984.3,520 987.1,520 990.2,522.7 993.2,520 995.4,521.7 998.4,520 1001.1,523.8 1004.9,520 1008.1,520 1011.3,520 1015.3,523.5 1017.5,520 1020.7,520 1023.4,520 1025.2,520 1028.6,520 1030.7,520 1034.4,520 1037,520 1040.7,520 1044.4,520 1046.9,520 1050.6,525.4 1052.5,520 1054.6,520 1057.3,520 1059.4,520 1062,520 1064.9,525.3 1068.1,520 1071.2,521.5 1072.8,520 1076.3,524.2 1079.8,520 1082.3,520 1085.3,520 1087,520 1088.9,520 1090.5,520 1092.4,520 1094.8,520 1098.5,520 1100.4,520 1102.8,520 1104.6,523.9 1108.5,520 1111.3,520 1113,520 1115.2,523.6 1117.1,520 1121,520 1122.8,520 1124.4,520 1128.3,520 1129,602.5" fill="#ff88cc"/><polyline points="916,504.4 917.9,521.1 919.6,503.3 922,512.8 924.7,505.8 927.3,513 929.1,490 932.6,513.7 934.7,502.9 938.5,520.1 941,501.1 942.7,524 944.9,505.3 946.7,516.3 950.2,505.1 953.2,520.9 955.6,503.3 957.3,512.8 959.3,502.6 961.8,516.4 964.8,503.7 967.1,523.1 970.3,500 973.2,519.4 976.9,502.4 979.1,525.7 980.9,503.9 984.3,514.1 987.1,505.8 990.2,522.7 993.2,501.6 995.4,521.7 998.4,503.1 1001.1,523.8 1004.9,505 1008.1,512.8 1011.3,502.8 1015.3,523.5 1017.5,504.1 1020.7,512.3 1023.4,505.2 1025.2,512.8 1028.6,505.4 1030.7,517.5 1034.4,505.6 1037,519.7 1040.7,501.9 1044.4,515.9 1046.9,504.2 1050.6,525.4 1052.5,505.1 1054.6,515.3 1057.3,503.1 1059.4,512.1 1062,504.2 1064.9,525.3 1068.1,503.4 1071.2,521.5 1072.8,501.5 1076.3,524.2 1079.8,488 1082.3,513.4 1085.3,505.7 1087,514.9 1088.9,488 1090.5,512 1092.4,505.5 1094.8,512.4 1098.5,498 1100.4,515.5 1102.8,504.2 1104.6,523.9 1108.5,503.7 1111.3,513.2 1113,504.3 1115.2,523.6 1117.1,505.9 1121,519.4 1122.8,503.3 1124.4,519.4 1128.3,501.7" fill="none" stroke="#ff88cc" stroke-width="4.6" stroke-linejoin="round"/>
<polyline points="1152.2,602 1152.3,594.2 1152.3,582.9 1152.5,570.6 1152.7,560 1153.1,551.7 1153.5,544.2 1154.1,537.2 1154.7,530 1155.4,522.7 1156.1,515.6 1156.9,508.2 1157.7,500 1158.5,491.1 1159.4,481.7 1160.4,471.5 1161.7,460 1163.4,446.3 1165.4,431 1167.6,415.7 1169.9,402.4 1172.2,392 1174.5,383.4 1177,375.1 1179.8,365.8 1182.9,354.8 1186.4,343 1189.8,331.1 1193,320 1195.8,309.3 1198.5,298.7 1200.9,289.3 1202.6,282.4 1203.6,278.7 1203.9,277.3 1203.9,277.2 1204,277 1204,277 1203.3,276.7 1202.3,276.2 1201.1,275.7 1200,275.5 1199.1,275.4 1198.4,275.3 1197.2,275.7 1195.2,276.9 1191.8,279.1 1187.5,282.1 1182.8,285.7 1178.7,289.7 1175.2,294.2 1171.8,299.3 1168.8,304.6 1165.9,309.8 1163.3,314.7 1161,319.5 1158.9,324.5 1156.8,330 1154.9,336 1153.1,342.3 1151.3,349.1 1149.4,356.6 1147.2,364.6 1144.9,373 1142.5,382.4 1140.3,393.2 1138.1,406.1 1136,420.8 1134,435.8 1132.5,450 1131.4,461.8 1130.8,472.2 1130.3,484 1130,500 1129.8,524.2 1129.8,554.1 1129.9,582.5 1130,602" fill="none" stroke="#ff88cc" stroke-width="5.5" stroke-linejoin="round" stroke-linecap="round"/>
<polygon points="915.5,602.5 915.5,520.4 917.5,519.7 919.6,518.9 921.7,519.5 925,518.9 928.8,522.9 931.4,520.8 933.4,529.6 935.8,521 939,521 942.2,521 944.5,530.3 947.4,520.8 950,522.1 952.2,520.3 954.2,529.9 957.1,520.8 960.8,526.8 964.7,523.9 966.8,533.3 968.7,524.9 971.7,535.3 975.5,526.4 977.1,526.8 979.8,525.9 981.5,526.8 983.2,523.9 984.7,523.6 987.6,521.3 991,519.7 993.1,518.9 995.6,524.5 997.9,516.9 1001.8,517.4 1005.4,520.3 1008.8,527.5 1011.3,523.2 1013.2,522.1 1015.1,520.9 1017.1,523.6 1020.5,517.7 1024.2,515.5 1027.7,515 1029.4,515 1032.4,515 1034.4,516.6 1038,515 1040.5,516.2 1042.2,515 1046,521.1 1048.5,515 1050.8,520.2 1053.9,515 1057.6,521.1 1059.7,515 1062.9,515.9 1065.1,516.5 1066.8,519.2 1070.7,517.7 1073.5,525.3 1077.2,515.1 1080,523 1082.1,513.1 1084.7,517.4 1087.7,510.9 1090.9,514.8 1094.8,511.9 1097.4,514.3 1101.2,514.7 1104.3,522.3 1108.2,518.9 1111.4,520.2 1114.5,520.6 1117.9,529.2 1119.9,521.3 1122.3,523.2 1124.1,521.9 1125.6,522.3 1128.8,521.5 1130.7,528.2 1133.3,520.9 1136.7,526.8 1139.3,520.1 1142.4,523.1 1145.8,515.6 1147.8,514.1 1149.6,510.9 1152,602.5" fill="#ff0000"/><polyline points="915.5,508 917.5,518.2 919.6,504.3 921.7,519.5 925,505.7 928.8,522.9 931.4,474 933.4,529.6 935.8,508.7 939,519.1 942.2,505.9 944.5,530.3 947.4,506.1 950,522.1 952.2,510.2 954.2,529.9 957.1,488 960.8,526.8 964.7,511.8 966.8,533.3 968.7,510.1 971.7,535.3 975.5,512.5 977.1,523.1 979.8,511 981.5,526.8 983.2,512 984.7,523.6 987.6,510.1 991,516.5 993.1,494 995.6,524.5 997.9,502.7 1001.8,515.2 1005.4,506.7 1008.8,527.5 1011.3,512.6 1013.2,520.5 1015.1,510.1 1017.1,523.6 1020.5,502.9 1024.2,513.1 1027.7,503.9 1029.4,515 1032.4,483 1034.4,516.6 1038,502.6 1040.5,516.2 1042.2,484 1046,521.1 1048.5,502.3 1050.8,520.2 1053.9,492 1057.6,521.1 1059.7,500.1 1062.9,515.4 1065.1,502 1066.8,519.2 1070.7,506.2 1073.5,525.3 1077.2,500.4 1080,523 1082.1,497.9 1084.7,517.4 1087.7,495 1090.9,514.8 1094.8,497.9 1097.4,514.3 1101.2,502.6 1104.3,522.3 1108.2,507.8 1111.4,518.6 1114.5,506.7 1117.9,529.2 1119.9,506.2 1122.3,523.2 1124.1,508.7 1125.6,522.3 1128.8,507 1130.7,528.2 1133.3,509.7 1136.7,526.8 1139.3,506.9 1142.4,523.1 1145.8,501 1147.8,510.4 1149.6,499" fill="none" stroke="#ff0000" stroke-width="4.6" stroke-linejoin="round"/>
<polyline points="1153,602 1153.1,594.2 1153.1,582.9 1153.3,570.6 1153.5,560 1153.9,551.7 1154.3,544.2 1154.9,537.2 1155.5,530 1156.2,522.7 1156.9,515.6 1157.7,508.2 1158.5,500 1159.3,491.1 1160.2,481.7 1161.2,471.5 1162.5,460 1164.2,446.3 1166.2,431 1168.4,415.7 1170.7,402.4 1173.5,391 1176.8,380.8 1179.7,372.2 1181.7,365.8 1182.3,362.3 1182,361.1 1181.4,361.1 1181,361 1181,361 1180.1,361.7 1178.9,362.7 1177.4,364.1 1176,366 1174.6,368.1 1173.2,370.6 1171.7,373.8 1170,378.6 1167.9,385.5 1165.5,394.1 1163.1,403.1 1161,411.5 1159.2,418.4 1157.5,424.7 1156,431.5 1154.5,440 1153,451.2 1151.5,464.3 1150.1,477.7 1149,490 1148.2,500 1147.7,508.6 1147.3,518 1147,530 1146.9,547.4 1146.9,568.5 1147,588.3 1147,602" fill="none" stroke="#ff0000" stroke-width="6.2" stroke-linejoin="round" stroke-linecap="round"/>
<rect x="918" y="570" width="7" height="32.5" fill="#ff88cc"/>
<rect x="998" y="590" width="4" height="12.5" fill="#ff88cc"/>
<rect x="1030" y="590" width="10" height="12.5" fill="#ff88cc"/>
<rect x="1057" y="590" width="3" height="12.5" fill="#ff88cc"/>
<rect x="1143" y="570" width="5" height="32.5" fill="#ff88cc"/>
<path d="M1059.3,569.5V603 M1098.9,581.5V603 M1086.2,580.3V603 M922.7,552.9V603 M1133,563.9V603 M1123.2,531.8V603 M1023.9,539.8V603 M1041.1,559.4V603 M919,538V603" stroke="#ff88cc" stroke-width="1.6"/>
<path d="M980.3,580V603 M1092.1,534.6V603 M1099.3,533.3V603 M1058,532.6V603 M916.4,577.3V603" stroke="#ff8000" stroke-width="1.2"/>
</g>
<text x="867.2" y="88.9" font-family="Liberation Sans, sans-serif" font-weight="bold" text-anchor="middle"><tspan font-size="37">10</tspan><tspan font-size="25" dy="-11.8">1</tspan></text>
<text x="867.2" y="164.8" font-family="Liberation Sans, sans-serif" font-weight="bold" text-anchor="middle"><tspan font-size="37">10</tspan><tspan font-size="25" dy="-11.8">0</tspan></text>
<text x="867.2" y="240.8" font-family="Liberation Sans, sans-serif" font-weight="bold" text-anchor="middle"><tspan font-size="37">10</tspan><tspan font-size="25" dy="-11.8">-1</tspan></text>
<text x="867.2" y="316.7" font-family="Liberation Sans, sans-serif" font-weight="bold" text-anchor="middle"><tspan font-size="37">10</tspan><tspan font-size="25" dy="-11.8">-2</tspan></text>
<text x="867.2" y="392.7" font-family="Liberation Sans, sans-serif" font-weight="bold" text-anchor="middle"><tspan font-size="37">10</tspan><tspan font-size="25" dy="-11.8">-3</tspan></text>
<text x="867.2" y="468.6" font-family="Liberation Sans, sans-serif" font-weight="bold" text-anchor="middle"><tspan font-size="37">10</tspan><tspan font-size="25" dy="-11.8">-4</tspan></text>
<text x="867.2" y="544.5" font-family="Liberation Sans, sans-serif" font-weight="bold" text-anchor="middle"><tspan font-size="37">10</tspan><tspan font-size="25" dy="-11.8">-5</tspan></text>
<text x="867.2" y="620.5" font-family="Liberation Sans, sans-serif" font-weight="bold" text-anchor="middle"><tspan font-size="37">10</tspan><tspan font-size="25" dy="-11.8">-6</tspan></text>
<text x="937.5" y="650.6" font-family="Liberation Sans, sans-serif" font-weight="bold" font-style="normal" font-size="37.5" fill="#000" >-4</text>
<text x="1038.1" y="650.6" font-family="Liberation Sans, sans-serif" font-weight="bold" font-style="normal" font-size="37.5" fill="#000" >-2</text>
<text x="1144.1" y="650.6" font-family="Liberation Sans, sans-serif" font-weight="bold" font-style="normal" font-size="37.5" fill="#000" >0</text>
<text x="1242.3" y="650.6" font-family="Liberation Sans, sans-serif" font-weight="bold" font-style="normal" font-size="37.5" fill="#000" >2</text>
<text x="1336.4" y="650.6" font-family="Liberation Sans, sans-serif" font-weight="bold" font-style="normal" font-size="37.5" fill="#000" >4</text>
<text x="1436.3" y="650.6" font-family="Liberation Sans, sans-serif" font-weight="bold" font-style="normal" font-size="37.5" fill="#000" >6</text>
<text x="1068.1" y="694.3" font-family="Liberation Sans, sans-serif" font-weight="bold" font-style="normal" font-size="37.5" fill="#000" >Gate Voltage (V)</text>
<text transform="translate(816.5,534.1) rotate(-90)" font-family="Liberation Sans, sans-serif" font-weight="bold" font-size="37.05">Drain Current (mA/mm)</text>
<text x="962.4" y="110.7" font-family="Liberation Sans, sans-serif" font-weight="bold" font-style="italic" font-size="44" fill="#000" >V</text>
<text x="989.2" y="119.5" font-family="Liberation Sans, sans-serif" font-weight="bold" font-style="normal" font-size="27.5" fill="#000" >G_max</text>
<line x1="962" y1="165.5" x2="1018" y2="165.5" stroke="#0000ee" stroke-width="5.2" stroke-linecap="round"/>
<text x="1030.7" y="170" font-family="Liberation Sans, sans-serif" font-weight="bold" font-style="normal" font-size="32.8" fill="#000" >7.0 V</text>
<line x1="962" y1="202.7" x2="1018" y2="202.7" stroke="#00a2ff" stroke-width="5.2" stroke-linecap="round"/>
<text x="1031" y="207.2" font-family="Liberation Sans, sans-serif" font-weight="bold" font-style="normal" font-size="32.8" fill="#000" >5.0 V</text>
<line x1="962" y1="240" x2="1018" y2="240" stroke="#3cf53c" stroke-width="5.2" stroke-linecap="round"/>
<text x="1031.2" y="244.5" font-family="Liberation Sans, sans-serif" font-weight="bold" font-style="normal" font-size="32.8" fill="#000" >3.0 V</text>
<line x1="962" y1="277.2" x2="1018" y2="277.2" stroke="#00dd00" stroke-width="5.2" stroke-linecap="round"/>
<text x="1030.9" y="281.7" font-family="Liberation Sans, sans-serif" font-weight="bold" font-style="normal" font-size="32.8" fill="#000" >2.5 V</text>
<line x1="962" y1="314.5" x2="1018" y2="314.5" stroke="#f0e22a" stroke-width="5.2" stroke-linecap="round"/>
<text x="1030.9" y="319" font-family="Liberation Sans, sans-serif" font-weight="bold" font-style="normal" font-size="32.8" fill="#000" >2.0 V</text>
<line x1="962" y1="351.7" x2="1018" y2="351.7" stroke="#ff8000" stroke-width="5.2" stroke-linecap="round"/>
<text x="1030" y="356.2" font-family="Liberation Sans, sans-serif" font-weight="bold" font-style="normal" font-size="32.8" fill="#000" >1.5 V</text>
<line x1="962" y1="388.9" x2="1018" y2="388.9" stroke="#ff88cc" stroke-width="5.2" stroke-linecap="round"/>
<text x="1030" y="393.4" font-family="Liberation Sans, sans-serif" font-weight="bold" font-style="normal" font-size="32.8" fill="#000" >1.0 V</text>
<line x1="962" y1="426.2" x2="1018" y2="426.2" stroke="#ff0000" stroke-width="5.2" stroke-linecap="round"/>
<text x="1030.7" y="430.7" font-family="Liberation Sans, sans-serif" font-weight="bold" font-style="normal" font-size="32.8" fill="#000" >0.5 V</text>
<g stroke="#000" stroke-width="2.4" fill="none"><line x1="1363.7" y1="233" x2="1363.7" y2="260.3"/><polyline points="1336.5,252.7 1329,252.7 1329,260.3 1399.2,260.3 1399.2,267.5 1391,267.5"/><polygon points="1363.7,260.3 1331.6,318.3 1396,318.3"/><line x1="1363.7" y1="318.3" x2="1363.7" y2="353.4"/><polygon points="1331.4,353.4 1396,353.4 1363.7,411.6"/><line x1="1329" y1="411.6" x2="1398.2" y2="411.6"/><line x1="1363.7" y1="411.6" x2="1363.7" y2="459.7"/></g>
<circle cx="1363.7" cy="233.3" r="5.3"/><circle cx="1363.7" cy="459.7" r="5.3"/>
<text x="1387.5" y="239" font-family="Liberation Sans, sans-serif" font-weight="bold" font-style="normal" font-size="33" fill="#000" >Gate</text>
<text x="1388.9" y="342.7" font-family="Liberation Sans, sans-serif" font-weight="bold" font-style="normal" font-size="33" fill="#000" >p-GaN</text>
<text x="1385.9" y="469.7" font-family="Liberation Sans, sans-serif" font-weight="bold" font-style="normal" font-size="32.6" fill="#000" >2DEG</text>
<text x="1251.5" y="568" font-family="Liberation Sans, sans-serif" font-weight="normal" font-style="normal" font-size="40" fill="#000" >@</text><text x="1300.6" y="566.2" font-family="Liberation Sans, sans-serif" font-weight="bold" font-style="italic" font-size="38.5" fill="#000" >V</text><text x="1324.7" y="574.3" font-family="Liberation Sans, sans-serif" font-weight="normal" font-style="normal" font-size="24.6" fill="#000" >DS</text><text x="1358.8" y="566.2" font-family="Liberation Sans, sans-serif" font-weight="bold" font-style="normal" font-size="37.5" fill="#000" >=0.5 V</text>
<text x="800.7" y="28.4" font-family="Liberation Sans, sans-serif" font-weight="normal" font-style="normal" font-size="33.2" fill="#000" >(b)</text>
</svg></body></html>
